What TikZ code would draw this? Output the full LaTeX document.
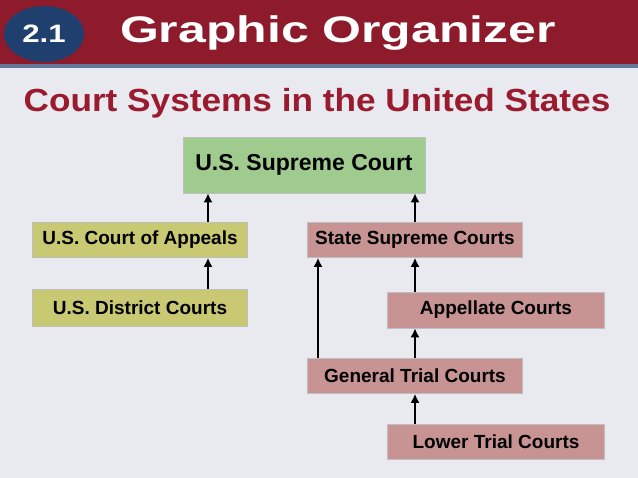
\documentclass[tikz,border=0pt]{standalone}
\usepackage{fontspec}
\setmainfont{Liberation Sans}
\usetikzlibrary{shapes.geometric,arrows.meta}
\definecolor{bg}{HTML}{E8EAF0}
\definecolor{hdr}{HTML}{8E1B2C}
\definecolor{navy}{HTML}{1F3F6E}
\definecolor{ttl}{HTML}{9A1A2E}
\definecolor{grn}{HTML}{9FCB8E}
\definecolor{olv}{HTML}{C9C873}
\definecolor{pnk}{HTML}{C79393}
\begin{document}
\begin{tikzpicture}[x=1pt,y=-1pt,
  box/.style={draw=black!25,line width=0.6pt,font=\bfseries\fontsize{19}{21}\selectfont,inner sep=0pt},
  arr/.style={-{Latex[length=9pt,width=9pt]},line width=2.6pt,black}]
\useasboundingbox (0,0) rectangle (638,478);
\fill[bg] (0,0) rectangle (638,478);
\fill[hdr] (0,0) rectangle (638,64);
\fill[navy!70] (0,64) rectangle (638,68);
\node[ellipse,fill=navy,minimum width=80pt,minimum height=56pt,inner sep=0pt,text=white,font=\bfseries\fontsize{24}{26}\selectfont] (num) at (44,34) {\scalebox{1.3}[1.05]{2.1}};
\node[text=white,font=\bfseries\fontsize{37}{40}\selectfont] (hd) at (338,33) {\scalebox{1.35}[1]{Graphic Organizer}};
\node[text=ttl,font=\bfseries\fontsize{32}{36}\selectfont] (title) at (317,103) {\scalebox{1.1}[1]{Court Systems in the United States}};
\node[box,fill=grn,minimum width=242pt,minimum height=56pt,font=\bfseries\fontsize{23}{25}\selectfont] (sc) at (304,165) {U.S. Supreme Court};
\node[box,fill=olv,minimum width=215pt,minimum height=35pt] (ca) at (140,240) {U.S. Court of Appeals};
\node[box,fill=olv,minimum width=215pt,minimum height=37pt] (dc) at (140,308) {U.S. District Courts};
\node[box,fill=pnk,minimum width=215pt,minimum height=35pt] (ss) at (415,240) {State Supreme Courts};
\node[box,fill=pnk,minimum width=217pt,minimum height=36pt] (ap) at (496,310) {Appellate Courts};
\node[box,fill=pnk,minimum width=215pt,minimum height=35pt] (gt) at (415,376) {General Trial Courts};
\node[box,fill=pnk,minimum width=217pt,minimum height=35pt] (lt) at (496,442) {Lower Trial Courts};
\draw[arr] (ca.north -| 208,0) -- (sc.south -| 208,0);
\draw[arr] (dc.north -| 208,0) -- (ca.south -| 208,0);
\draw[arr] (ss.north -| 415,0) -- (sc.south -| 415,0);
\draw[arr] (gt.north -| 318,0) -- (ss.south -| 318,0);
\draw[arr] (ap.north -| 415,0) -- (ss.south -| 415,0);
\draw[arr] (gt.north -| 415,0) -- (ap.south -| 415,0);
\draw[arr] (lt.north -| 415,0) -- (gt.south -| 415,0);
\end{tikzpicture}
\end{document}
